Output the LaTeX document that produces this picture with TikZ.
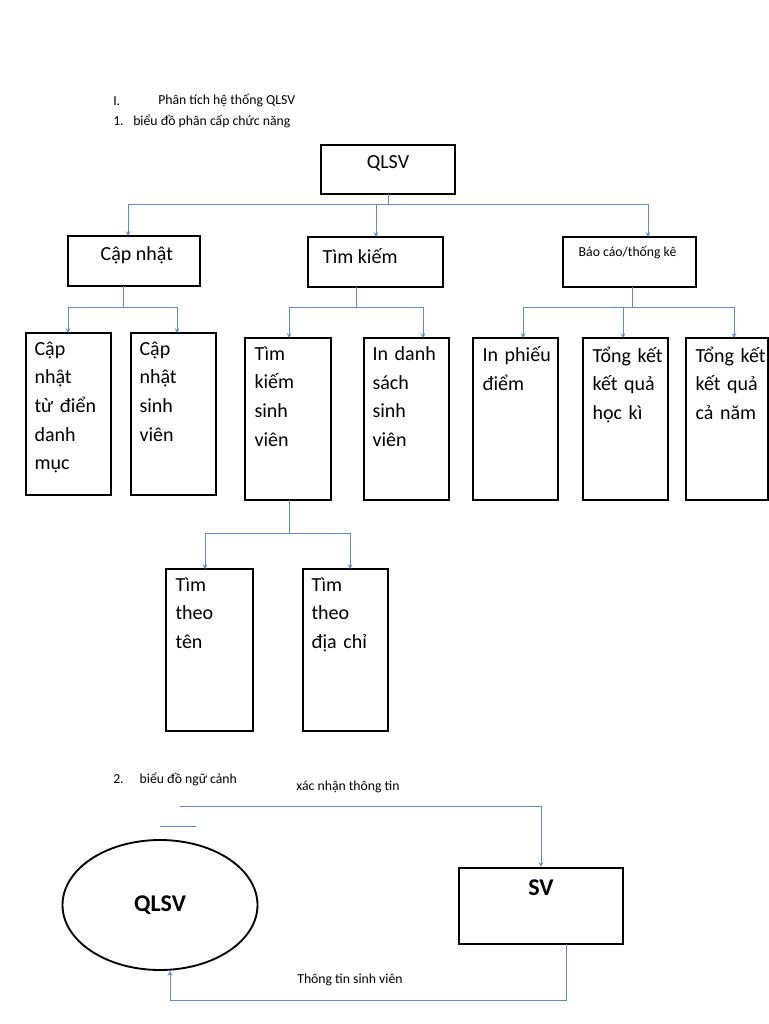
\documentclass[tikz,border=0pt]{standalone}
\usepackage{fontspec}
\setmainfont{Carlito}
\usetikzlibrary{positioning,calc,shapes.geometric}
\definecolor{lineblue}{RGB}{91,140,200}
\tikzset{box/.style={draw,thick,anchor=north west,align=left,inner sep=0pt},
         leaf/.style={box,text width=54pt,font=\fontsize{15}{21.5}\selectfont},
         line/.style={lineblue,semithick},
         arrow/.style={lineblue,semithick,->,>=stealth},
         small/.style={font=\fontsize{10.3}{12}\selectfont,inner sep=0pt}
}
\begin{document}
\begin{tikzpicture}[x=0.75pt,y=-0.75pt]
\useasboundingbox (0,0) rectangle (768,1024);

\node[small,anchor=west] (h1) at (113,101) {I.};
\node[small,anchor=west] (h1t) at (158,101) {Phân tích hệ thống QLSV};
\node[small,anchor=west] (h2) at (113,121) {1.};
\node[small,anchor=west] (h2t) at (133,121) {biểu đồ phân cấp chức năng};

% level 0 and 1
\draw[thick] (321,145) rectangle (455,194);
\node[font=\fontsize{15}{17}\selectfont] (root) at (388,163) {QLSV};
\draw[thick] (68,236) rectangle (200,286);
\node[font=\fontsize{15}{17}\selectfont,anchor=west] (cn) at (96,255) {Cập nhật};
\draw[thick] (308,237) rectangle (443,287);
\node[font=\fontsize{15}{17}\selectfont,anchor=west] (tk) at (318,256) {Tìm kiếm};
\draw[thick] (563,237) rectangle (696,287);
\node[font=\fontsize{10.3}{12}\selectfont,anchor=west] (bc) at (574,253) {Báo cáo/thống kê};

% level 2
\coordinate (b1) at (26,333);  \draw[thick] (b1) rectangle (111,495);
\node[leaf,draw=none] (l1) at (34,341) {Cập nhật từ điển danh mục};
\coordinate (b2) at (131,333); \draw[thick] (b2) rectangle (216,495);
\node[leaf,draw=none] (l2) at (139,341) {Cập nhật sinh viên};
\coordinate (b3) at (245,338); \draw[thick] (b3) rectangle (331,500);
\node[leaf,draw=none] (l3) at (254,346) {Tìm kiếm sinh viên};
\coordinate (b4) at (364,338); \draw[thick] (b4) rectangle (449,500);
\node[leaf,draw=none] (l4) at (372,346) {In danh sách sinh viên};
\coordinate (b5) at (473,338); \draw[thick] (b5) rectangle (558,500);
\node[leaf,draw=none] (l5) at (482,346) {In phiếu điểm};
\coordinate (b6) at (583,338); \draw[thick] (b6) rectangle (668,500);
\node[leaf,draw=none] (l6) at (592,346) {Tổng kết kết quả học kì};
\coordinate (b7) at (686,338); \draw[thick] (b7) rectangle (768,500);
\node[leaf,draw=none] (l7) at (695,346) {Tổng kết kết quả cả năm};

% level 3
\coordinate (b8) at (166,569); \draw[thick] (b8) rectangle (253,731);
\node[leaf,draw=none] (l8) at (175,577) {Tìm theo tên};
\coordinate (b9) at (303,569); \draw[thick] (b9) rectangle (388,731);
\node[leaf,draw=none] (l9) at (311,577) {Tìm theo địa chỉ};

% connectors
\draw[line] (388,194) -- (388,204);
\draw[line] (128,204) -- (648,204);
\foreach \x/\y in {128/236,376/237,648/237} \draw[arrow] (\x,204) -- (\x,\y);
\draw[line] (123,286) -- (123,307) (68,307) -- (177,307);
\foreach \x in {68,177} \draw[arrow] (\x,307) -- (\x,333);
\draw[line] (356,287) -- (356,307) (289,307) -- (423,307);
\foreach \x in {289,423} \draw[arrow] (\x,307) -- (\x,338);
\draw[line] (632,287) -- (632,307) (523,307) -- (734,307);
\foreach \x in {523,623,734} \draw[arrow] (\x,307) -- (\x,338);
\draw[line] (289,500) -- (289,533) (205,533) -- (350,533);
\foreach \x in {205,350} \draw[arrow] (\x,533) -- (\x,569);

% context diagram
\node[small,anchor=west] (h3) at (113,779) {2.\hspace{12pt}biểu đồ ngữ cảnh};
\node[draw,line width=1.4pt,ellipse,minimum width=195*0.75pt,minimum height=130*0.75pt,
      font=\bfseries\fontsize{18}{20}\selectfont] (ql) at (160,905) {QLSV};
\node[draw,line width=1.6pt,minimum width=164*0.75pt,minimum height=76*0.75pt,inner sep=0pt] (sv) at (541,906) {};
\node[font=\bfseries\fontsize{18}{20}\selectfont] (svt) at (541,888) {SV};
\coordinate (c1) at (180,806);
\draw[arrow] (c1) -| (sv.north);
\node[small] (m1) at (348,787) {xác nhận thông tin};
\draw[line] (160,826) -- (196,826);
\coordinate (c2) at (566,944);
\coordinate (c3) at (170,1000);
\draw[arrow] (c2) |- (c3) -- (c3 |- ql.south);
\node[small] (m2) at (350,980) {Thông tin sinh viên};
\end{tikzpicture}
\end{document}
